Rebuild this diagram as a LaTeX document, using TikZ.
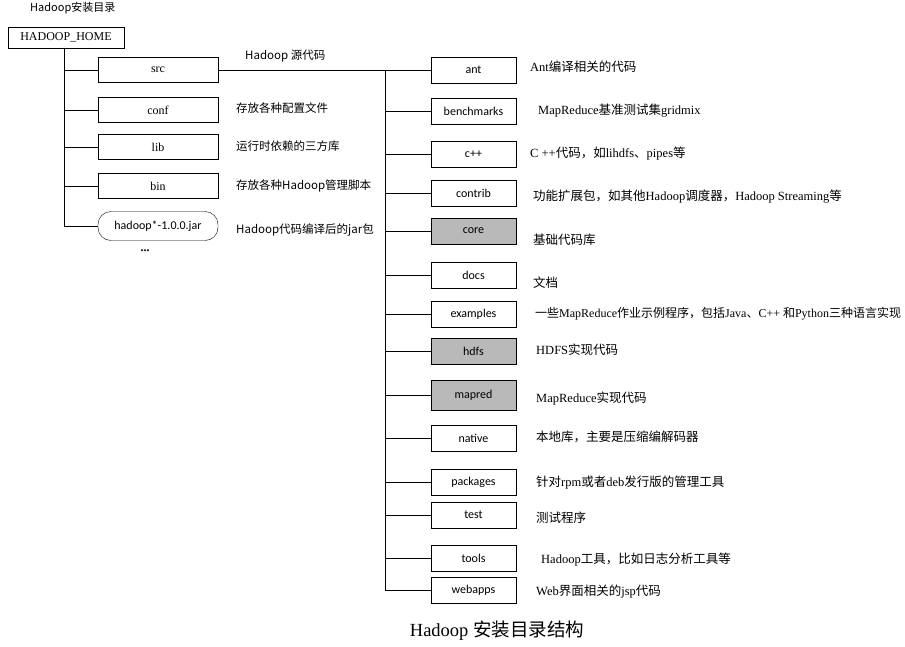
\documentclass[tikz,border=0pt]{standalone}
\usepackage{fontspec}
\setmainfont{Liberation Serif}
\newfontfamily\cj{Noto Sans CJK SC}
\newfontfamily\sfc{Carlito}
\begin{document}
\begin{tikzpicture}[x=1pt,y=-1pt,font=\fontsize{12}{14}\selectfont,
  box/.style={draw,minimum width=85pt,minimum height=26pt,inner sep=0pt,font=\sfc\fontsize{12}{14}\selectfont},
  lbox/.style={draw,minimum width=120pt,minimum height=25pt,inner sep=0pt},
  gbox/.style={box,fill=gray!55},
  desc/.style={anchor=west,inner sep=0pt,font=\fontsize{12.5}{14}\selectfont},
  cdesc/.style={desc,font=\cj\fontsize{11.5}{13}\selectfont},
  ln/.style={draw,line width=0.6pt}]
\useasboundingbox (0,0) rectangle (905,646);
\node[anchor=west,inner sep=0pt,font=\cj\fontsize{11}{12}\selectfont] (t) at (30,8) {Hadoop安装目录};
\node[draw,minimum width=116pt,minimum height=21pt,inner sep=0pt] (home) at (66,37.5) {HADOOP\_HOME};
\node[lbox] (src) at (158,70) {src};
\node[lbox] (conf) at (158,110) {conf};
\node[lbox] (lib) at (158,147) {lib};
\node[lbox] (bin) at (158,186) {bin};
\node[draw,rounded corners=13pt,minimum width=120pt,minimum height=29pt,inner sep=0pt,font=\sfc\fontsize{12}{14}\selectfont] (jar) at (158,226) {hadoop*-1.0.0.jar};
\node[inner sep=0pt,font=\bfseries\fontsize{12}{14}\selectfont] (dots) at (145,251) {...};
\coordinate (lt) at (64,48);
\draw[ln] (lt) -- (64,226);
\foreach \n in {src,conf,lib,bin,jar} \draw[ln] (64,0 |- \n.west) -- (\n.west);
\node[cdesc] (dsrc) at (245,56) {Hadoop 源代码};
\node[cdesc] (dconf) at (236,108) {存放各种配置文件};
\node[cdesc] (dlib) at (236,146) {运行时依赖的三方库};
\node[cdesc] (dbin) at (236,186) {存放各种Hadoop管理脚本};
\node[cdesc] (djar) at (236,230) {Hadoop代码编译后的jar包};
% right
\foreach \n/\y/\s in {ant/70/box,benchmarks/111/box,c++/154/box,contrib/193/box,core/231/gbox,docs/275/box,examples/314/box,hdfs/351/gbox,mapred/395/gbox,native/438/box,packages/482/box,test/515/box,tools/558/box,webapps/590/box}
  \node[\s] (\n) at (473.5,\y) {\n};
\node[gbox,minimum height=30pt] at (473.5,395) {mapred};
\draw[ln] (src.east) -- (ant.west);
\draw[ln] (385,70) -- (385,0 |- webapps.west);
\foreach \n in {benchmarks,c++,contrib,core,docs,examples,hdfs,mapred,native,packages,test,tools,webapps} \draw[ln] (385,0 |- \n.west) -- (\n.west);
\node[desc] (d1) at (530,67) {Ant{\cj 编译相关的代码}};
\node[desc] (d2) at (538,111) {MapReduce{\cj 基准测试集}gridmix};
\node[desc] (d3) at (530,154) {C ++{\cj 代码，如}lihdfs{\cj 、}pipes{\cj 等}};
\node[desc] (d4) at (533,197) {{\cj 功能扩展包，如其他}Hadoop{\cj 调度器，}Hadoop Streaming{\cj 等}};
\node[desc] (d5) at (533,240) {\cj 基础代码库};
\node[desc] (d6) at (533,283) {\cj 文档};
\node[desc,font=\fontsize{12}{14}\selectfont] (d7) at (535,314) {{\cj 一些}MapReduce{\cj 作业示例程序，包括}Java{\cj 、}C++ {\cj 和}Python{\cj 三种语言实现}};
\node[desc] (d8) at (536,350) {HDFS{\cj 实现代码}};
\node[desc] (d9) at (536,399) {MapReduce{\cj 实现代码}};
\node[desc] (d10) at (536,437) {\cj 本地库，主要是压缩编解码器};
\node[desc] (d11) at (536,483) {{\cj 针对}rpm{\cj 或者}deb{\cj 发行版的管理工具}};
\node[desc] (d12) at (536,518) {\cj 测试程序};
\node[desc] (d13) at (541,560) {Hadoop{\cj 工具，比如日志分析工具等}};
\node[desc] (d14) at (536,592) {Web{\cj 界面相关的}jsp{\cj 代码}};
\node[font=\fontsize{18.5}{22}\selectfont] (cap) at (497,631) {Hadoop {\cj 安装目录结构}};
\end{tikzpicture}
\end{document}
